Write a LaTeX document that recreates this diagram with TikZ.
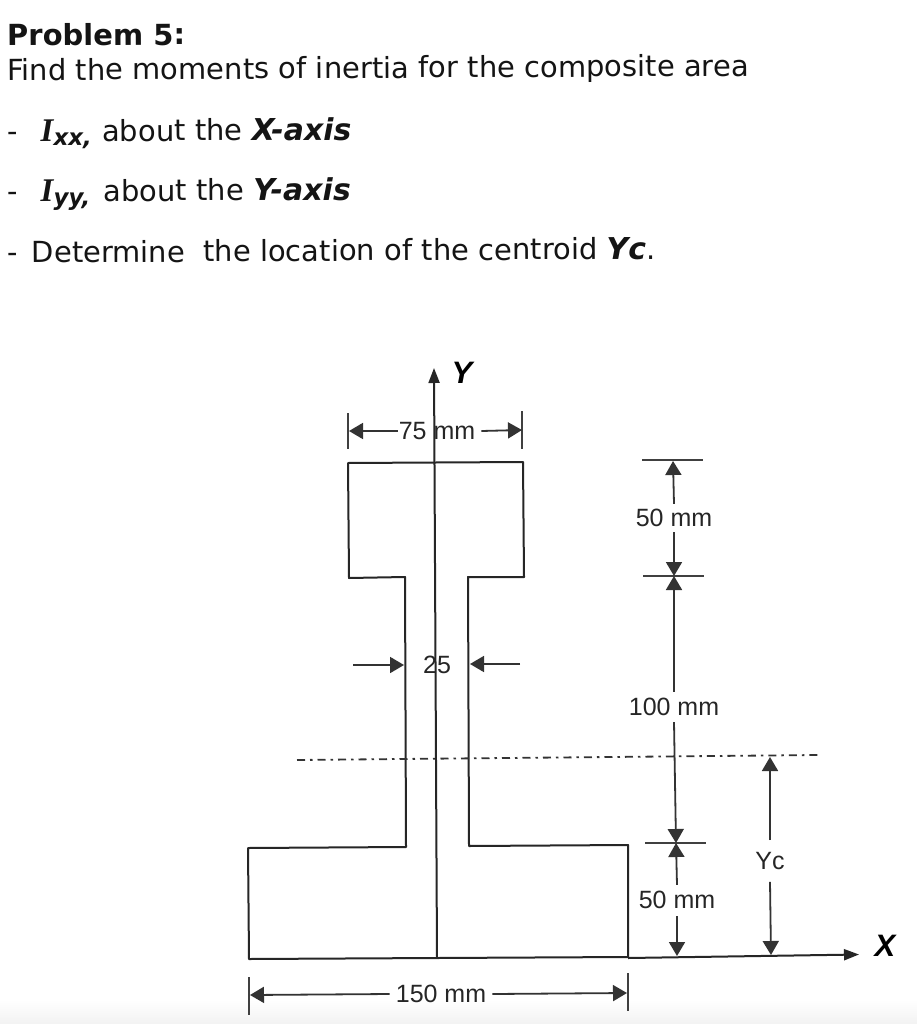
\documentclass[tikz,border=0pt]{standalone}
\usepackage{fontspec}
\setmainfont{DejaVu Sans}
\newfontfamily\dimfont{Liberation Sans}
\newfontfamily\ifont{Liberation Serif}
\usetikzlibrary{arrows.meta}
\newcommand{\bi}[1]{{\bfseries\itshape\fontsize{30}{34}\selectfont #1}}
\newcommand{\Isub}[1]{{\ifont\bfseries\itshape\fontsize{33}{34}\selectfont I}{\bfseries\itshape\fontsize{23}{24}\selectfont\raisebox{-4pt}{#1}}}
\tikzset{
  heading/.style={anchor=base west,inner sep=0pt,font=\fontsize{29}{34}\selectfont,text=black!92,rotate=0.35},
  dimlabel/.style={inner sep=0pt,font=\dimfont\fontsize{25}{27}\selectfont,text=black!85},
  axlabel/.style={inner sep=0pt,font=\dimfont\bfseries\itshape\fontsize{31}{32}\selectfont},
  outline/.style={line width=2pt,black!85,line join=round},
  thinline/.style={line width=2pt,black!85},
  dimline/.style={line width=1.8pt,black!80},
  tick/.style={line width=1.5pt,black!75},
  tip/.style={-{Triangle[length=14pt,width=16pt]}},
  axistip/.style={-{Triangle[length=15pt,width=11pt]}},
  centre/.style={line width=1.8pt,black!80,dash pattern=on 8pt off 5pt on 2.5pt off 5pt}
}
\begin{document}
\begin{tikzpicture}[x=1pt,y=-1pt]
\useasboundingbox (0,0) rectangle (917,1024);
\fill[white] (0,0) rectangle (917,1024);
\shade[top color=white,bottom color=black!5] (0,1000) rectangle (917,1024);
% text
\node[heading,font=\bfseries\fontsize{29}{34}\selectfont] (title) at (7,46) {Problem 5:};
\node[heading] (find) at (7,80.5) {Find the moments of inertia for the composite area};
\node[heading] (ixx) at (7,142) {-\hspace{23pt}\Isub{xx,}\hspace{1pt} about the \bi{X-axis}};
\node[heading] (iyy) at (7,202) {-\hspace{23pt}\Isub{yy,}\hspace{4pt} about the \bi{Y-axis}};
\node[heading] (det) at (7,263) {-\hspace{5pt} Determine\hspace{9pt} the location of the centroid \bi{Yc}.};
% section
\draw[outline] (348,463) -- (523,462) -- (524,577) -- (468,577) -- (469,846) -- (628,845) -- (628,957)
  -- (437,958) -- (249,959) -- (248,848) -- (406,847) -- (405,577) -- (349,578) -- cycle;
% centre line
\coordinate (cl) at (297,760); \coordinate (cr) at (818,755);
\draw[centre] (cl) -- (cr);
% axes
\coordinate (yb) at (437,958); \coordinate (yt) at (434,368);
\draw[thinline,axistip] (yb) -- (yt);
\node[axlabel] (ylab) at (462,373) {Y};
\coordinate (xb) at (628,958); \coordinate (xt) at (859,954.5);
\draw[thinline,axistip] (xb) -- (xt);
\node[axlabel] (xlab) at (885,946) {X};
% 75 mm
\draw[tick] (348,413) -- (348,449);
\draw[tick] (522,411) -- (522,449);
\node[dimlabel] (d75) at (437,431) {75 mm};
\coordinate (a1) at (349,431); \coordinate (a2) at (522,430);
\draw[dimline,tip] (d75.west)++(-1,0) -- (a1);
\draw[dimline,tip] (d75.east)++(6,0) -- (a2);
% 25
\node[dimlabel] (d25) at (437,665) {25};
\coordinate (b1) at (353,665); \coordinate (b1e) at (404,665);
\coordinate (b2) at (520,664); \coordinate (b2e) at (470,664);
\draw[dimline,tip] (b1) -- (b1e);
\draw[dimline,tip] (b2) -- (b2e);
% 150 mm
\draw[tick] (249,977) -- (249,1015);
\draw[tick] (628,973) -- (628,1011);
\node[dimlabel] (d150) at (441,994) {150 mm};
\coordinate (c1) at (250,995); \coordinate (c2) at (627,993);
\draw[dimline,tip] (d150.west)++(-6,0) -- (c1);
\draw[dimline,tip] (d150.east)++(6,0) -- (c2);
% vertical dimensions
\coordinate (t1) at (673,461); \coordinate (t2) at (674,576); \coordinate (t3) at (676,843);
\coordinate (t4) at (677,956);
\draw[tick] (642,460) -- (703,460);
\draw[tick] (643,576) -- (704,576);
\draw[tick] (645,843) -- (706,843);
\node[dimlabel] (v50a) at (674,518) {50 mm};
\node[dimlabel] (v100) at (674,707) {100 mm};
\node[dimlabel] (v50b) at (677,900) {50 mm};
\draw[dimline,tip] (v50a.north)++(0,-5) -- (t1);
\draw[dimline,tip] (v50a.south)++(0,5) -- (t2);
\draw[dimline,tip] (v100.north)++(0,-6) -- (t2);
\draw[dimline,tip] (v100.south)++(0,6) -- (t3);
\draw[dimline,tip] (v50b.north)++(0,-6) -- (t3);
\draw[dimline,tip] (v50b.south)++(0,7) -- (t4);
% Yc
\coordinate (y1) at (770,757); \coordinate (y2) at (771,955);
\node[dimlabel] (vyc) at (770,861) {Yc};
\draw[dimline,tip] (vyc.north)++(0,-12) -- (y1);
\draw[dimline,tip] (vyc.south)++(0,12) -- (y2);
\end{tikzpicture}
\end{document}
